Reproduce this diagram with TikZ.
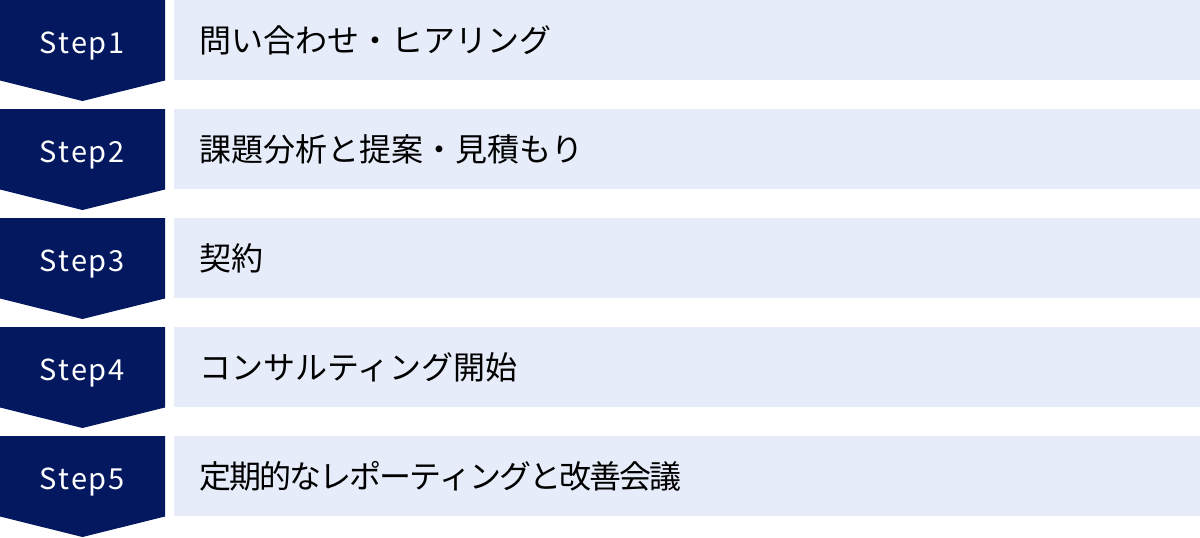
\documentclass[tikz,border=0pt]{standalone}
\usepackage{fontspec}
\newfontfamily\jp{Noto Sans CJK JP}
\newcommand\tk{\kern-2pt}
\newcommand\lk{\kern1.5pt}
\definecolor{navy}{HTML}{041860}
\definecolor{lightbox}{HTML}{E6ECF9}
\tikzset{
  stepshape/.style={fill=navy, draw=none},
  boxshape/.style={fill=lightbox, draw=none},
  steplabel/.style={text=white, font=\jp\fontsize{29}{29}\selectfont, inner sep=0pt, anchor=base},
  boxlabel/.style={text=black, font=\jp\fontsize{32}{32}\selectfont, inner sep=0pt, anchor=west},
}
\begin{document}
\begin{tikzpicture}[x=1pt,y=-1pt]
\useasboundingbox (0,0) rectangle (1200,538);
\foreach \i/\t in {1/問い合わせ・ヒアリング,2/課題分析と提案・見積もり,3/契約,4/コンサルティング開始,5/定\tk 期\tk 的\tk な\tk レ\tk ポ\tk ー\tk テ\tk ィ\tk ン\tk グ\tk と\tk 改\tk 善\tk 会\tk 議}{
  \pgfmathsetmacro{\yo}{(\i-1)*109}
  \fill[stepshape] (0,\yo) -- (165,\yo) -- (165,\yo+80.5) -- (82.5,\yo+101) -- (0,\yo+80.5) -- cycle;
  \fill[boxshape] (174,\yo) rectangle (1200,\yo+80);
  \node[steplabel] (s\i) at (82,\yo+53.8) {S\lk t\lk e\lk p\lk\i};
  \node[boxlabel] (b\i) at (199.5,\yo+40) {\t};
}
\end{tikzpicture}
\end{document}
